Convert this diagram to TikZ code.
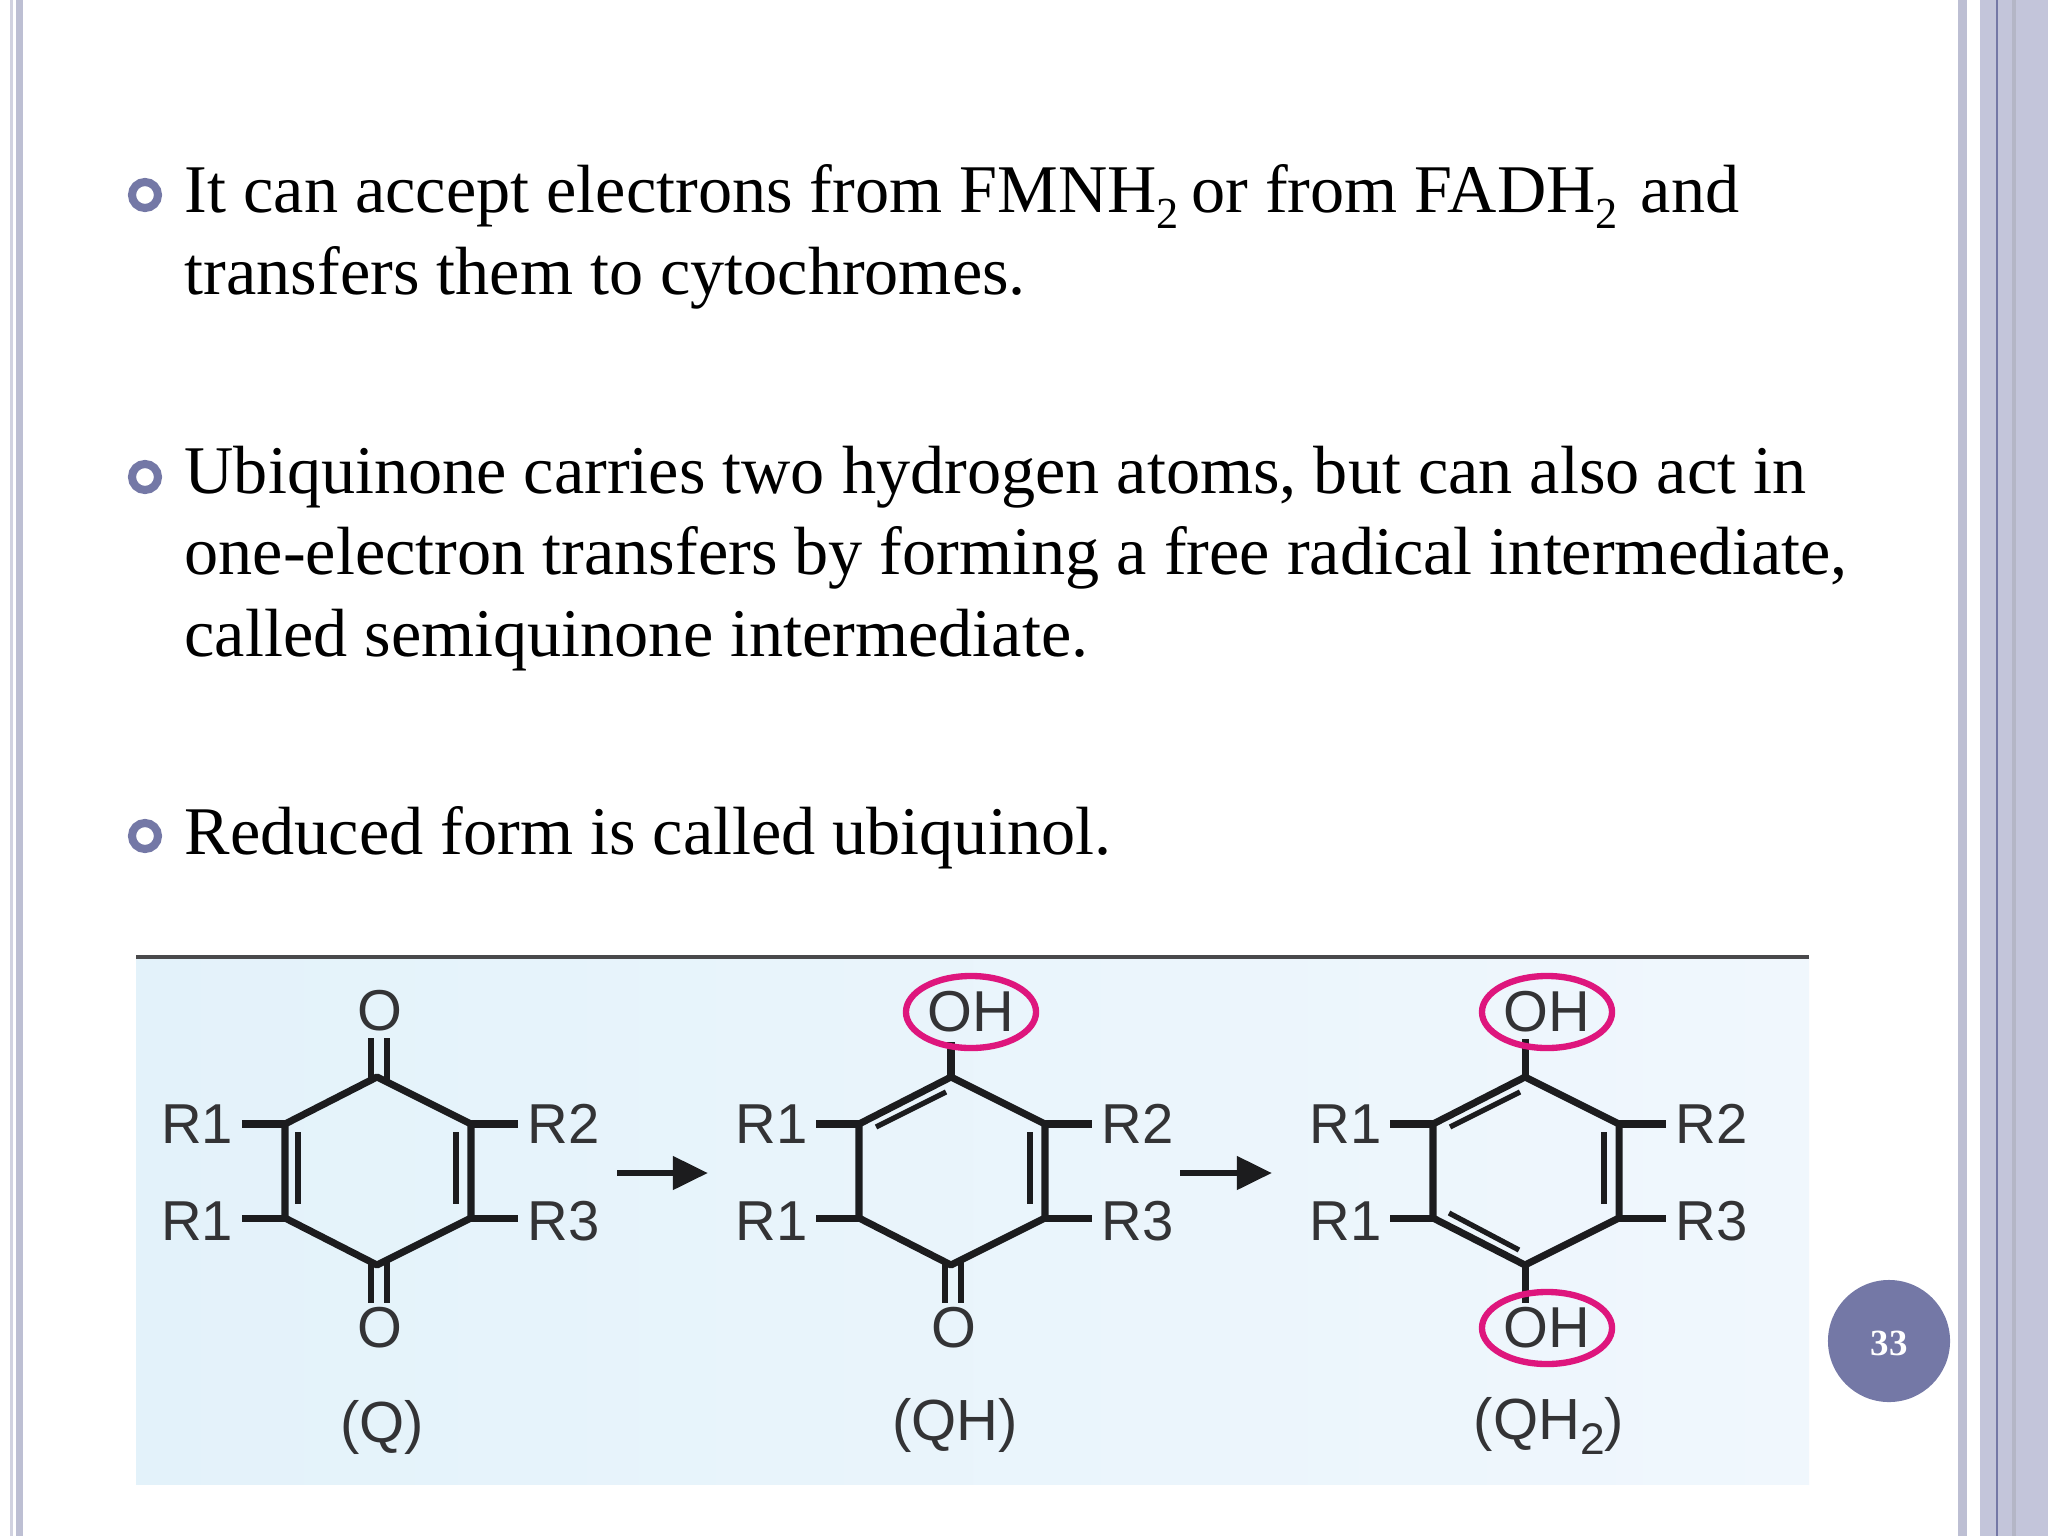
\documentclass[tikz,border=0pt]{standalone}
\usepackage{fontspec}
\setmainfont{Liberation Serif}
\newfontfamily\labelfont{Liberation Sans}
\usetikzlibrary{arrows.meta,shapes.geometric}
\newcommand{\lowtwo}{\raisebox{-4.6pt}{\fontsize{12.6}{14}\selectfont 2}}

\begin{document}
\begin{tikzpicture}[x=0.01cm, y=-0.01cm]
	\definecolor{stripColour}{RGB}{189, 191, 211}
	\definecolor{panelColour}{RGB}{195, 197, 218}
	\definecolor{lineColour}{RGB}{116, 120, 166}
	\definecolor{ringColour}{RGB}{222, 22, 125}
	\definecolor{inkColour}{RGB}{28, 28, 30}
	\definecolor{bandLeft}{RGB}{227, 242, 250}
	\definecolor{bandRight}{RGB}{240, 247, 253}
	\tikzstyle{dot}=[circle, draw=lineColour, line width=2.3pt, minimum size=0.26cm, inner sep=0pt]
	\tikzstyle{para}=[anchor=north west, inner sep=0pt, align=left, text=black, font=\fontsize{19.4}{23.3}\selectfont]
	\tikzstyle{bond}=[draw=inkColour, line width=2pt, line join=round]
	\tikzstyle{thinbond}=[draw=inkColour, line width=1.5pt]
	\tikzstyle{atom}=[inner sep=0pt, text=inkColour!90, font=\labelfont\fontsize{16}{18}\selectfont]
	\tikzstyle{oxygen}=[atom, font=\labelfont\fontsize{16.4}{18}\selectfont]
	\tikzstyle{ring}=[oxygen, ellipse, draw=ringColour, line width=1.8pt, minimum width=1.3cm, minimum height=0.72cm]
	\tikzstyle{caption}=[atom, font=\labelfont\fontsize{16.5}{18}\selectfont]
	\tikzstyle{steparrow}=[draw=inkColour, line width=1.9pt, -{Triangle[length=10pt, width=9.2pt]}]

	\useasboundingbox (0,0) rectangle (2048,1536);
	\fill[white] (0,0) rectangle (2048,1536);

	% slide edges
	\fill[stripColour!70] (10,0) rectangle (13,1536);
	\fill[stripColour] (16,0) rectangle (23,1536);
	\fill[stripColour] (1958,0) rectangle (1967,1536);
	\fill[panelColour] (1980,0) rectangle (2048,1536);
	\fill[lineColour] (1996,0) rectangle (1998,1536);
	\fill[stripColour!85!gray] (2012,0) rectangle (2016,1536);

	% bullets
	\node [dot] (b1) at (145,195) {};
	\node [dot] (b2) at (145,477) {};
	\node [dot] (b3) at (145,836) {};
	\node [para] (t1) at (184,164) {It can accept electrons from FMNH\lowtwo\hspace{3.6pt}or from FADH\lowtwo\hspace{6.6pt}and\\transfers them to cytochromes.};
	\node [para] (t2) at (184,445) {Ubiquinone carries two hydrogen atoms, but can also act in\\one-electron transfers by forming a free radical intermediate,\\called semiquinone intermediate.};
	\node [para] (t3) at (184,806) {Reduced form is called ubiquinol.};

	% picture band
	\shade[left color=bandLeft, right color=bandRight] (136,957) rectangle (1809,1484);
	\draw[inkColour!80, line width=0.9pt] (136,957) -- (1809,957);

	% the part all three rings have in common
	\foreach \m/\c in {q/377, h/951, d/1525} {
		\coordinate (\m-t) at (\c,1077);
		\coordinate (\m-ur) at (\c+94,1124);
		\coordinate (\m-lr) at (\c+94,1218);
		\coordinate (\m-b) at (\c,1265);
		\coordinate (\m-ll) at (\c-92,1218);
		\coordinate (\m-ul) at (\c-92,1124);
		\coordinate (\m-s1) at (\c-135,1124);
		\coordinate (\m-s2) at (\c-135,1218);
		\coordinate (\m-s3) at (\c+141,1124);
		\coordinate (\m-s4) at (\c+141,1218);
		\coordinate (\m-r1) at (\c+79,1132);
		\coordinate (\m-r2) at (\c+79,1204);
		\path[bond] (\m-t) -- (\m-ur) -- (\m-lr) -- (\m-b) -- (\m-ll) -- (\m-ul) -- cycle;
		\path[bond] (\m-ul) -- (\m-s1) (\m-ll) -- (\m-s2) (\m-ur) -- (\m-s3) (\m-lr) -- (\m-s4);
		\path[thinbond] (\m-r1) -- (\m-r2);
		\node [atom, anchor=east] (\m-R1a) at (\c-143,1124) {R1};
		\node [atom, anchor=east] (\m-R1b) at (\c-143,1221) {R1};
		\node [atom, anchor=west] (\m-R2) at (\c+150,1124) {R2};
		\node [atom, anchor=west] (\m-R3) at (\c+150,1221) {R3};
	}

	% Q
	\coordinate (q-l1) at (298,1132);
	\coordinate (q-l2) at (298,1204);
	\path[thinbond] (q-l1) -- (q-l2);
	\coordinate (q-o1) at (371,1038);
	\coordinate (q-o2) at (371,1082);
	\coordinate (q-o3) at (387,1038);
	\coordinate (q-o4) at (387,1082);
	\coordinate (q-o5) at (371,1260);
	\coordinate (q-o6) at (371,1303);
	\coordinate (q-o7) at (387,1260);
	\coordinate (q-o8) at (387,1303);
	\path[bond, line width=1.7pt] (q-o1) -- (q-o2) (q-o3) -- (q-o4) (q-o5) -- (q-o6) (q-o7) -- (q-o8);
	\node [oxygen] (q-O1) at (380,1011) {O};
	\node [oxygen] (q-O2) at (380,1328) {O};
	\node [caption] (q-n) at (382,1427) {(Q)};

	% QH
	\coordinate (h-a1) at (876,1127);
	\coordinate (h-a2) at (946,1092);
	\path[thinbond] (h-a1) -- (h-a2);
	\coordinate (h-top) at (951,1042);
	\path[bond] (h-t) -- (h-top);
	\coordinate (h-o5) at (945,1260);
	\coordinate (h-o6) at (945,1303);
	\coordinate (h-o7) at (961,1260);
	\coordinate (h-o8) at (961,1303);
	\path[bond, line width=1.7pt] (h-o5) -- (h-o6) (h-o7) -- (h-o8);
	\node [ring] (h-OH) at (971,1012) {OH};
	\node [oxygen] (h-O) at (954,1328) {O};
	\node [caption] (h-n) at (955,1425) {(QH)};

	% QH2
	\coordinate (d-a1) at (1450,1127);
	\coordinate (d-a2) at (1520,1092);
	\coordinate (d-c1) at (1449,1213);
	\coordinate (d-c2) at (1519,1250);
	\path[thinbond] (d-a1) -- (d-a2) (d-c1) -- (d-c2);
	\coordinate (d-top) at (1525,1039);
	\coordinate (d-bot) at (1525,1303);
	\path[bond] (d-t) -- (d-top) (d-b) -- (d-bot);
	\node [ring] (d-OH1) at (1547,1012) {OH};
	\node [ring] (d-OH2) at (1547,1328) {OH};
	\node [caption] (d-n) at (1549,1426) {(QH\raisebox{-4.4pt}{\fontsize{12.6}{14}\selectfont 2})};

	% reaction arrows
	\coordinate (a1) at (617,1173);
	\coordinate (a2) at (708,1173);
	\coordinate (a3) at (1180,1173);
	\coordinate (a4) at (1272,1173);
	\path[steparrow] (a1) -- (a2);
	\path[steparrow] (a3) -- (a4);

	% page number
	\node [circle, fill=lineColour, minimum size=1.22cm, inner sep=0pt, text=white, text height=8.5pt, text depth=0pt, font=\bfseries\fontsize{10.5}{12}\selectfont] (pg) at (1889,1341) {33};
\end{tikzpicture}
\end{document}
